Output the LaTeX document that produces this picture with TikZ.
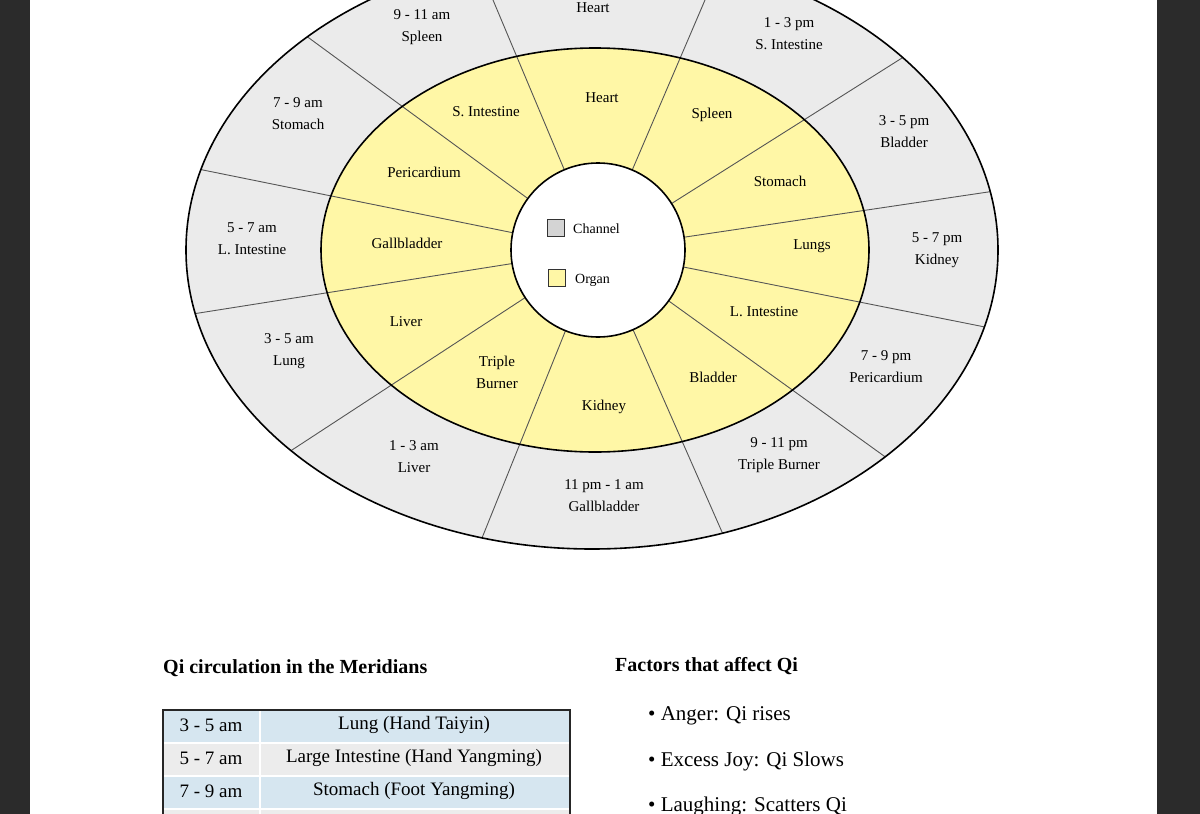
\documentclass[tikz,border=0pt]{standalone}
\usepackage{fontspec}
\usetikzlibrary{calc}
\setmainfont{Liberation Serif}
\definecolor{chan}{HTML}{EBEBEB}
\definecolor{org}{HTML}{FFF7A6}
\definecolor{side}{HTML}{2B2B2B}
\definecolor{tblue}{HTML}{D6E6F0}
\definecolor{tgray}{HTML}{ECECEC}
\definecolor{divline}{HTML}{555555}
\tikzset{
 lab/.style={align=center,font=\fontsize{15}{22}\selectfont,inner sep=0},
 cell/.style={font=\fontsize{19}{22}\selectfont,inner sep=0},
 bul/.style={font=\fontsize{21}{24}\selectfont,anchor=west,inner sep=0},
 divider/.style={draw=divline,line width=0.9pt},
}
\begin{document}
\begin{tikzpicture}[x=1pt,y=-1pt]
\useasboundingbox (0,0) rectangle (1200,814);
\fill[side] (0,0) rectangle (30,814);
\fill[side] (1157,0) rectangle (1200,814);
\fill[chan] (592,250) ellipse [x radius=406pt, y radius=299pt];
\fill[org] (595,250) ellipse [x radius=274pt, y radius=202pt];
\coordinate (c) at (598,250);
\begin{scope}
\clip (592,250) ellipse [x radius=406pt, y radius=299pt];
\foreach \dx/\dy in {-105/-250,107/-250,209/-132,269/-40,392/78,286/206,124/282,-116/288,-306/200,-399/63,-395/-80,-289/-212}{
  \draw[divider] (c) -- ($(c)+2*(\dx,\dy)$);
}
\end{scope}
\draw[line width=1.6pt] (592,250) ellipse [x radius=406pt, y radius=299pt];
\draw[line width=1.6pt] (595,250) ellipse [x radius=274pt, y radius=202pt];
\draw[line width=1.6pt,fill=white] (c) circle [radius=87pt];
\node[draw=black!80,line width=1pt,fill=black!17,minimum size=17pt,inner sep=0] (lc) at (556,228) {};
\node[lab,anchor=west,font=\fontsize{14}{16}\selectfont] (lct) at (573,229) {Channel};
\node[draw=black!80,line width=1pt,fill=org,minimum size=17pt,inner sep=0] (lo) at (557,278) {};
\node[lab,anchor=west,font=\fontsize{14}{16}\selectfont] (lot) at (575,280) {Organ};
\node[lab] (o1) at (422,27) {9 - 11 am\\Spleen};
\node[lab] (o2) at (593,8) {Heart};
\node[lab] (o3) at (789,34) {1 - 3 pm\\S. Intestine};
\node[lab] (o4) at (904,132) {3 - 5 pm\\Bladder};
\node[lab] (o5) at (937,250) {5 - 7 pm\\Kidney};
\node[lab] (o6) at (886,367) {7 - 9 pm\\Pericardium};
\node[lab] (o7) at (779,455) {9 - 11 pm\\Triple Burner};
\node[lab] (o8) at (604,496) {11 pm - 1 am\\Gallbladder};
\node[lab] (o9) at (414,457) {1 - 3 am\\Liver};
\node[lab] (o10) at (289,351) {3 - 5 am\\Lung};
\node[lab] (o11) at (252,239) {5 - 7 am\\L. Intestine};
\node[lab] (o12) at (298,114) {7 - 9 am\\Stomach};
\node[lab] (i1) at (602,98) {Heart};
\node[lab] (i2) at (712,115) {Spleen};
\node[lab] (i3) at (780,181) {Stomach};
\node[lab] (i4) at (812,246) {Lungs};
\node[lab] (i5) at (764,312) {L. Intestine};
\node[lab] (i6) at (713,377) {Bladder};
\node[lab] (i7) at (604,407) {Kidney};
\node[lab] (i8) at (497,372) {Triple\\Burner};
\node[lab] (i9) at (406,322) {Liver};
\node[lab] (i10) at (407,243) {Gallbladder};
\node[lab] (i11) at (424,172) {Pericardium};
\node[lab] (i12) at (486,112) {S. Intestine};
\node[anchor=west,inner sep=0,font=\fontsize{20}{24}\selectfont\bfseries] (h1) at (163,668) {Qi circulation in the Meridians};
\node[anchor=west,inner sep=0,font=\fontsize{20}{24}\selectfont\bfseries] (h2) at (615,666) {Factors that affect Qi};
\fill[tblue] (163,710) rectangle (570,743);
\fill[tgray] (163,743) rectangle (570,776);
\fill[tblue] (163,776) rectangle (570,809);
\fill[tgray] (163,809) rectangle (570,814);
\draw[white,line width=2.5pt] (163,743) -- (570,743) (163,776) -- (570,776) (163,809) -- (570,809) (260,710) -- (260,814);
\draw[black!85,line width=1.5pt] (163,814) -- (163,710) -- (570,710) -- (570,814);
\node[cell] (t1a) at (211,725) {3 - 5 am};
\node[cell] (t1b) at (414,725) {Lung (Hand Taiyin)};
\node[cell] (t2a) at (211,758) {5 - 7 am};
\node[cell] (t2b) at (414,758) {Large Intestine (Hand Yangming)};
\node[cell] (t3a) at (211,791) {7 - 9 am};
\node[cell] (t3b) at (414,791) {Stomach (Foot Yangming)};
\node[bul] (b1) at (648,716) {\textbullet\ Anger: Qi rises};
\node[bul] (b2) at (648,761) {\textbullet\ Excess Joy: Qi Slows};
\node[bul] (b3) at (648,806) {\textbullet\ Laughing: Scatters Qi};
\end{tikzpicture}
\end{document}
